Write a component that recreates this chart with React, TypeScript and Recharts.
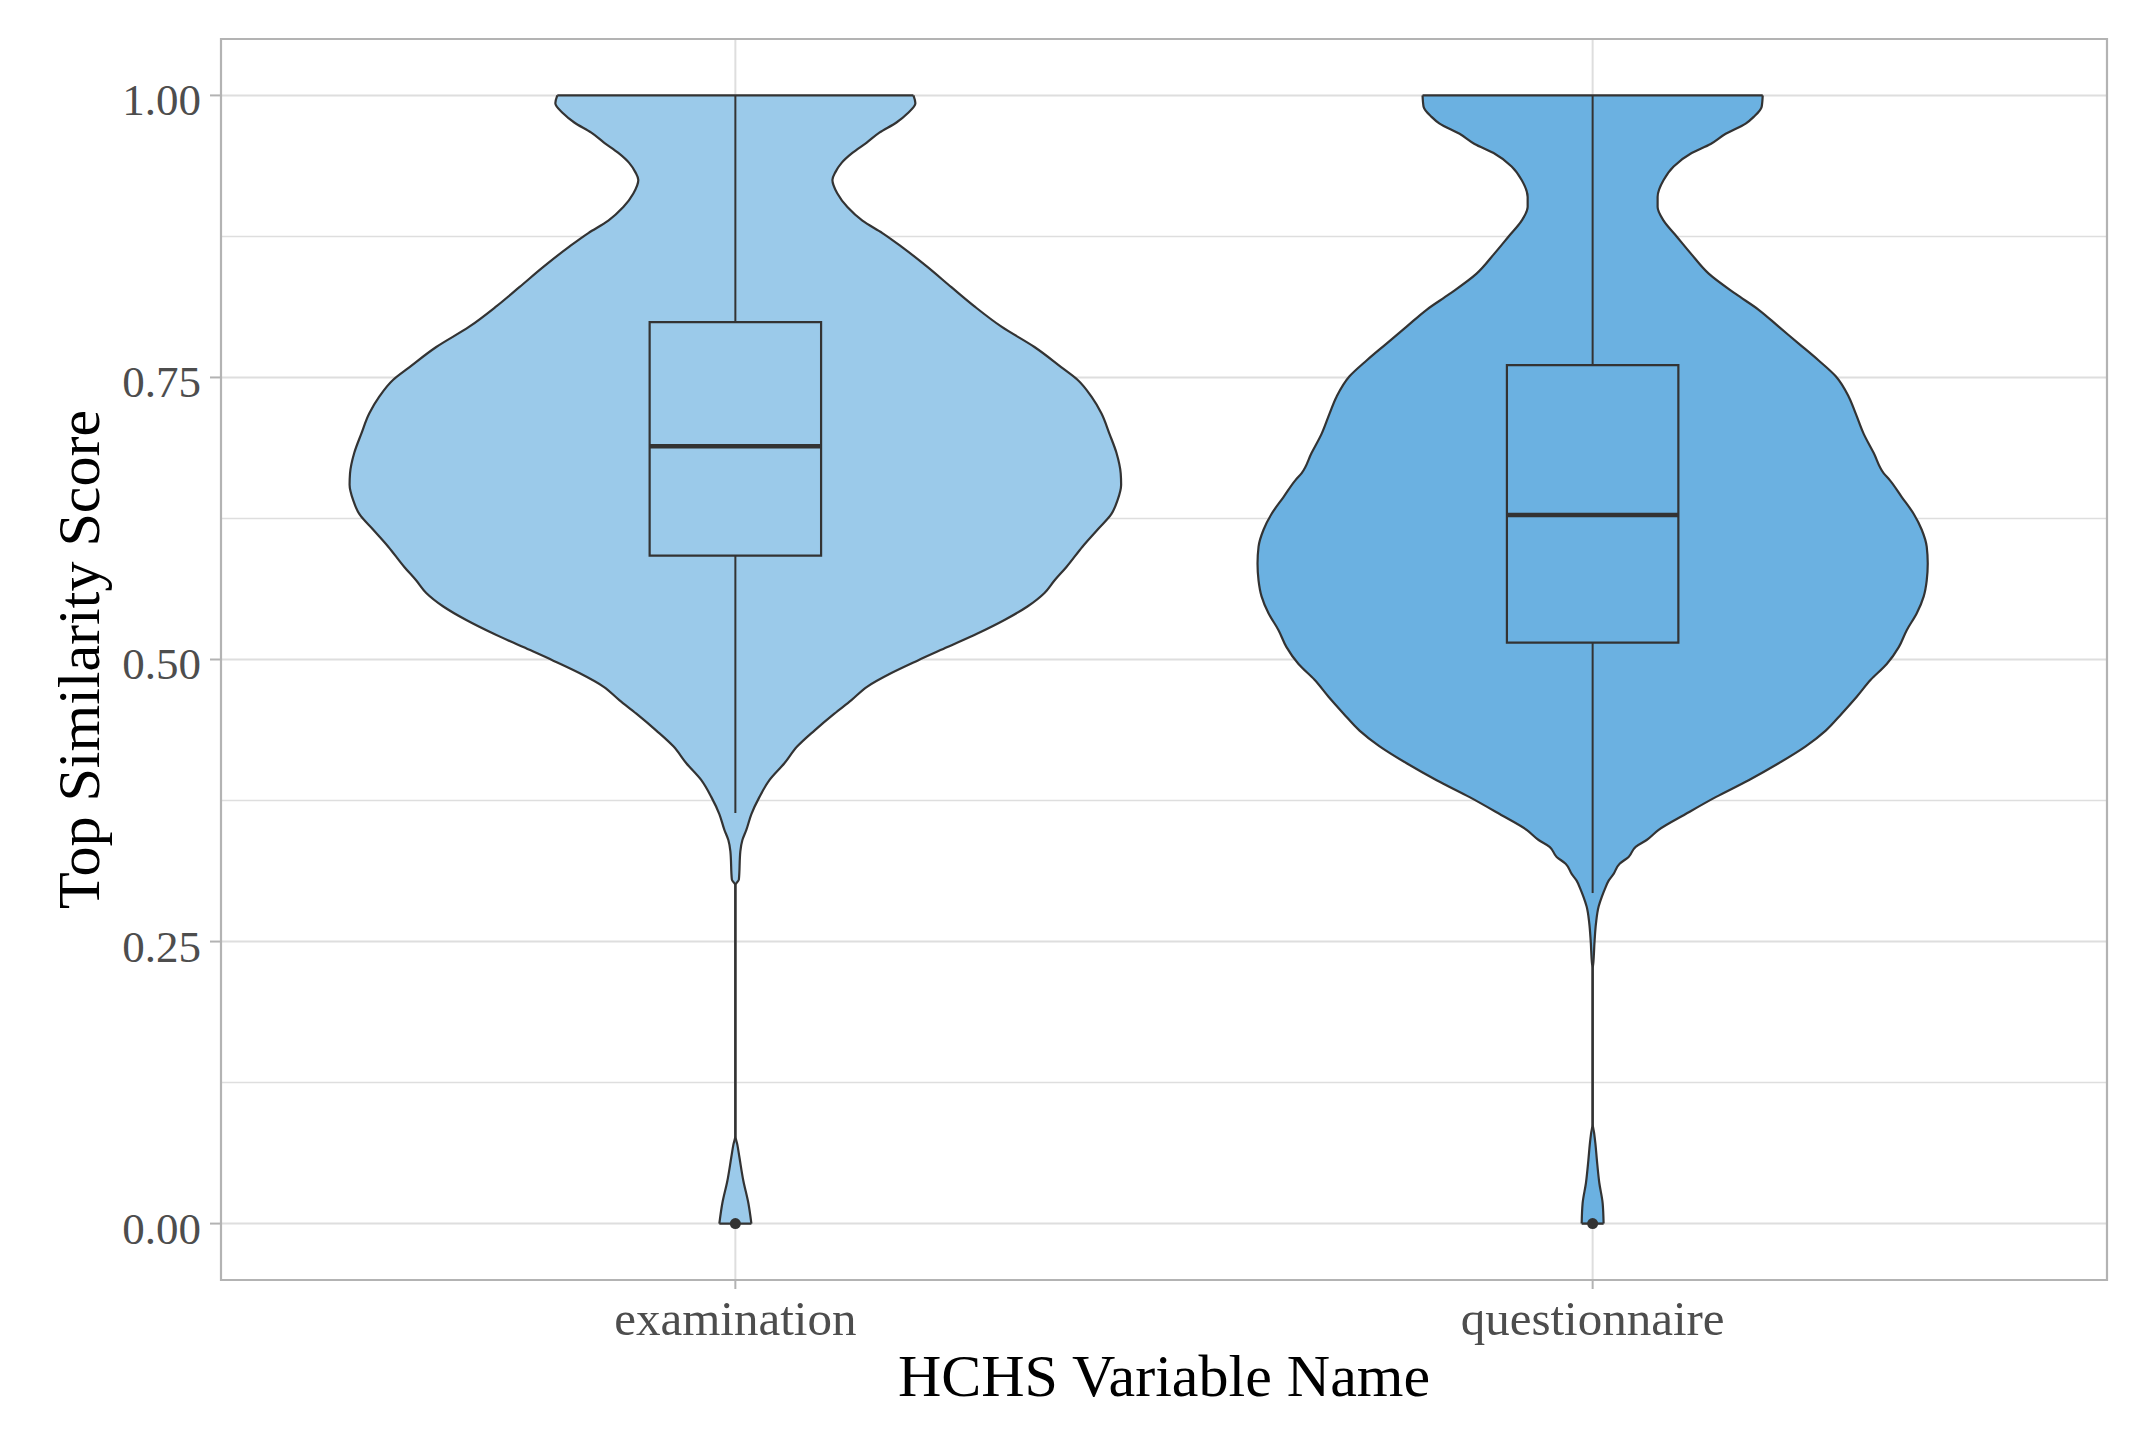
import React from 'react';
import {
  ComposedChart,
  Area,
  XAxis,
  YAxis,
  CartesianGrid,
  ReferenceArea,
  ReferenceLine,
  ReferenceDot,
} from 'recharts';

// ---------- data ----------
const categories = ['examination', 'questionnaire'];
const categoryPositions = [1, 2];
const fills = ['#9BCAEA', '#6BB1E1'];

// violin outlines: score level -> half width (in x-axis category units)
const examinationLevels = [
  1.0, 0.993, 0.984, 0.976, 0.967, 0.958, 0.949, 0.94, 0.932, 0.925, 0.913, 0.901, 0.889, 0.878,
  0.866, 0.848, 0.83, 0.813, 0.795, 0.777, 0.759, 0.748, 0.733, 0.718, 0.7, 0.683, 0.665, 0.655,
  0.641, 0.629, 0.615, 0.6, 0.582, 0.57, 0.559, 0.547, 0.535, 0.523, 0.511, 0.499, 0.488, 0.476,
  0.464, 0.452, 0.437, 0.423, 0.408, 0.393, 0.378, 0.363, 0.349, 0.34, 0.33, 0.305, 0.3, 0.078,
  0.07, 0.059, 0.038, 0.018, 0.0,
];
const examinationHalfWidths = [
  0.2077, 0.21, 0.2007, 0.1879, 0.168, 0.1529, 0.1365, 0.1237, 0.1167, 0.1132, 0.119, 0.1307,
  0.1482, 0.1715, 0.1937, 0.224, 0.252, 0.2789, 0.3104, 0.3489, 0.3804, 0.3991, 0.4154, 0.4271,
  0.4364, 0.4446, 0.4495, 0.45, 0.4457, 0.4387, 0.4224, 0.4049, 0.3862, 0.3722, 0.3606, 0.3407,
  0.3139, 0.2824, 0.2474, 0.2124, 0.182, 0.154, 0.1354, 0.1155, 0.0922, 0.0723, 0.0572, 0.0397,
  0.028, 0.0187, 0.0128, 0.0082, 0.0058, 0.0041, 0.0, 0.0, 0.0023, 0.0047, 0.0093, 0.0152, 0.0187,
];

const questionnaireLevels = [
  1.0, 0.99, 0.981, 0.975, 0.966, 0.957, 0.949, 0.937, 0.925, 0.91, 0.901, 0.889, 0.875, 0.86,
  0.842, 0.824, 0.81, 0.795, 0.78, 0.765, 0.751, 0.733, 0.718, 0.7, 0.683, 0.665, 0.659, 0.644,
  0.629, 0.615, 0.6, 0.585, 0.57, 0.556, 0.541, 0.526, 0.511, 0.496, 0.482, 0.467, 0.452, 0.437,
  0.423, 0.408, 0.393, 0.378, 0.363, 0.349, 0.34, 0.334, 0.325, 0.319, 0.31, 0.304, 0.296, 0.29,
  0.281, 0.266, 0.251, 0.231, 0.225, 0.089, 0.08, 0.071, 0.056, 0.036, 0.018, 0.0,
];
const questionnaireHalfWidths = [
  0.1984, 0.1972, 0.1879, 0.1785, 0.1552, 0.1377, 0.1155, 0.0945, 0.0828, 0.0758, 0.0758, 0.0828,
  0.098, 0.1144, 0.1354, 0.1669, 0.1937, 0.217, 0.2404, 0.2637, 0.2836, 0.2987, 0.3069, 0.3162,
  0.3279, 0.3396, 0.3466, 0.3606, 0.3746, 0.3839, 0.3897, 0.3909, 0.3897, 0.3862, 0.3781, 0.3664,
  0.3571, 0.3431, 0.3244, 0.3081, 0.2905, 0.2719, 0.2485, 0.217, 0.182, 0.1435, 0.1085, 0.077,
  0.063, 0.0502, 0.042, 0.0315, 0.0245, 0.0187, 0.014, 0.0109, 0.007, 0.0039, 0.0023, 0.0008, 0.0,
  0.0, 0.0018, 0.0032, 0.005, 0.0078, 0.0117, 0.0128,
];

// box plot statistics per category
const boxQ1 = [0.592, 0.515];
const boxMedian = [0.689, 0.628];
const boxQ3 = [0.799, 0.761];
const whiskerLow = [0.364, 0.293];
const whiskerHigh = [1.0, 1.0];
const outlierValues = [0.0, 0.0];
const boxHalfWidth = 0.1;

const yMajorTicks = [0, 0.25, 0.5, 0.75, 1];
const yMinorTicks = [0.125, 0.375, 0.625, 0.875];
const xDomain = [0.4, 2.6];
const yDomain = [-0.05, 1.05];

const violinLevels = [examinationLevels, questionnaireLevels];
const violinHalfWidths = [examinationHalfWidths, questionnaireHalfWidths];

const violinTables = categoryPositions.map((c, k) =>
  violinLevels[k].map((v, i) => ({
    v,
    range: [c - violinHalfWidths[k][i], c + violinHalfWidths[k][i]],
  })),
);

// ---------- styles ----------
const W = 2148;
const H = 1453;
const OUTLINE = '#333333';
const GRID = '#DEDEDE';
const BORDER = '#B3B3B3';
const TICK_TEXT = '#4D4D4D';
const FONT = '"Liberation Serif", "DejaVu Serif", serif';

const YTitle = (props: any) => {
  const vb = props.viewBox || { x: 0, y: 0, width: 0, height: 0 };
  const x = vb.x + 99;
  const y = vb.y + vb.height / 2;
  return (
    <text
      x={x}
      y={y}
      transform={`rotate(-90, ${x}, ${y})`}
      textAnchor="middle"
      fontSize={60}
      fill="#000000"
      fontFamily={FONT}
    >
      Top Similarity Score
    </text>
  );
};

const XTitle = (props: any) => {
  const vb = props.viewBox || { x: 0, y: 0, width: 0, height: 0 };
  return (
    <text
      x={vb.x + vb.width / 2}
      y={vb.y + 116}
      textAnchor="middle"
      fontSize={60}
      fill="#000000"
      fontFamily={FONT}
    >
      HCHS Variable Name
    </text>
  );
};

export default function App() {
  return (
    <div
      style={{
        position: 'absolute',
        left: 0,
        top: 0,
        width: W,
        height: H,
        background: '#ffffff',
        fontFamily: FONT,
      }}
    >
      <ComposedChart
        width={W}
        height={H}
        layout="vertical"
        margin={{ top: 39, right: 41, bottom: 0, left: 0 }}
      >
        <CartesianGrid
          horizontalValues={yMajorTicks}
          verticalValues={categoryPositions}
          stroke={GRID}
          strokeWidth={2}
        />
        <CartesianGrid
          horizontalValues={yMinorTicks}
          vertical={false}
          stroke={GRID}
          strokeWidth={1.6}
        />
        <XAxis
          type="number"
          domain={xDomain}
          ticks={categoryPositions}
          allowDataOverflow
          tickFormatter={(t: number) => categories[categoryPositions.indexOf(t)] ?? ''}
          height={173}
          axisLine={false}
          tickLine={{ stroke: BORDER, strokeWidth: 2 }}
          tickSize={9}
          tickMargin={11}
          tick={{ fill: TICK_TEXT, fontSize: 49, fontFamily: FONT }}
          label={<XTitle />}
        />
        <YAxis
          type="number"
          dataKey="v"
          domain={yDomain}
          reversed
          ticks={yMajorTicks}
          allowDataOverflow
          tickFormatter={(t: number) => t.toFixed(2)}
          width={221}
          axisLine={false}
          tickLine={{ stroke: BORDER, strokeWidth: 2 }}
          tickSize={11}
          tickMargin={9}
          tick={{ fill: TICK_TEXT, fontSize: 45, fontFamily: FONT, dy: 4 }}
          label={<YTitle />}
        />
        {violinTables.map((table, k) => (
          <Area
            key={categories[k]}
            data={table}
            dataKey="range"
            type="monotone"
            fill={fills[k]}
            fillOpacity={1}
            stroke={OUTLINE}
            strokeWidth={2.2}
            dot={false}
            activeDot={false}
            isAnimationActive={false}
          />
        ))}
        {categoryPositions.map((c, k) => {
          const lv = violinLevels[k];
          const hw = violinHalfWidths[k];
          return (
            <ReferenceLine
              key={`top-${k}`}
              segment={[
                { x: c - hw[0], y: lv[0] },
                { x: c + hw[0], y: lv[0] },
              ]}
              stroke={OUTLINE}
              strokeWidth={2.4}
            />
          );
        })}
        {categoryPositions.map((c, k) => {
          const lv = violinLevels[k];
          const hw = violinHalfWidths[k];
          const last = lv.length - 1;
          return (
            <ReferenceLine
              key={`bottom-${k}`}
              segment={[
                { x: c - hw[last], y: lv[last] },
                { x: c + hw[last], y: lv[last] },
              ]}
              stroke={OUTLINE}
              strokeWidth={2.4}
            />
          );
        })}
        {categoryPositions.map((c, k) => (
          <ReferenceLine
            key={`wu-${k}`}
            segment={[
              { x: c, y: boxQ3[k] },
              { x: c, y: whiskerHigh[k] },
            ]}
            stroke={OUTLINE}
            strokeWidth={2}
          />
        ))}
        {categoryPositions.map((c, k) => (
          <ReferenceLine
            key={`wl-${k}`}
            segment={[
              { x: c, y: boxQ1[k] },
              { x: c, y: whiskerLow[k] },
            ]}
            stroke={OUTLINE}
            strokeWidth={2}
          />
        ))}
        {categoryPositions.map((c, k) => (
          <ReferenceArea
            key={`box-${k}`}
            x1={c - boxHalfWidth}
            x2={c + boxHalfWidth}
            y1={boxQ1[k]}
            y2={boxQ3[k]}
            fill="none"
            fillOpacity={0}
            stroke={OUTLINE}
            strokeWidth={2.2}
          />
        ))}
        {categoryPositions.map((c, k) => (
          <ReferenceLine
            key={`med-${k}`}
            segment={[
              { x: c - boxHalfWidth, y: boxMedian[k] },
              { x: c + boxHalfWidth, y: boxMedian[k] },
            ]}
            stroke={OUTLINE}
            strokeWidth={4.5}
          />
        ))}
        {categoryPositions.map((c, k) => (
          <ReferenceDot
            key={`out-${k}`}
            x={c}
            y={outlierValues[k]}
            r={5.5}
            fill={OUTLINE}
            stroke="none"
          />
        ))}
        <ReferenceArea
          x1={xDomain[0]}
          x2={xDomain[1]}
          y1={yDomain[0]}
          y2={yDomain[1]}
          fill="none"
          fillOpacity={0}
          stroke={BORDER}
          strokeWidth={2.2}
        />
      </ComposedChart>
    </div>
  );
}
